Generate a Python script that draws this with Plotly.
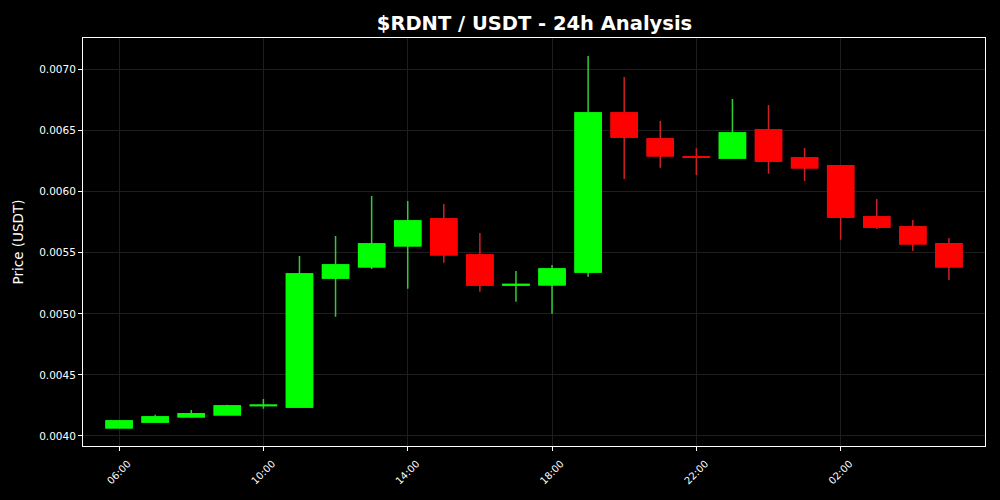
import plotly.graph_objects as go
import pandas as pd

times = pd.date_range("2024-01-01 06:00", periods=24, freq="h")
open_ = [0.004068, 0.004115, 0.004158, 0.004174, 0.004249, 0.004237, 0.005293, 0.005386,
         0.005558, 0.005776, 0.005482, 0.005236, 0.005238, 0.005342, 0.006644, 0.006431,
         0.006286, 0.006276, 0.006505, 0.006276, 0.006212, 0.005793, 0.005711, 0.005574]
high = [0.004131, 0.004174, 0.004213, 0.004256, 0.004303, 0.005473, 0.005637, 0.005965,
        0.005924, 0.005900, 0.005662, 0.005351, 0.005400, 0.007110, 0.006939, 0.006578,
        0.006355, 0.006758, 0.006709, 0.006357, 0.006218, 0.005940, 0.005768, 0.005621]
low = [0.004066, 0.004112, 0.004150, 0.004172, 0.004223, 0.004235, 0.004977, 0.005367,
       0.005206, 0.005419, 0.005181, 0.005099, 0.005001, 0.005304, 0.006104, 0.006196,
       0.006136, 0.006274, 0.006147, 0.006087, 0.005607, 0.005694, 0.005514, 0.005277]
close = [0.004123, 0.004156, 0.004183, 0.004246, 0.004252, 0.005326, 0.005400, 0.005572,
         0.005760, 0.005484, 0.005236, 0.005240, 0.005367, 0.006644, 0.006447, 0.006294,
         0.006282, 0.006480, 0.006251, 0.006196, 0.005793, 0.005711, 0.005574, 0.005386]

y_ticks = [0.0040, 0.0045, 0.0050, 0.0055, 0.0060, 0.0065, 0.0070]
x_ticks = pd.date_range("2024-01-01 06:00", periods=6, freq="4h")

body_hi = [max(o, c) for o, c in zip(open_, close)]
body_lo = [min(o, c) for o, c in zip(open_, close)]

UP_BODY, DN_BODY = "#00ff00", "#ff0000"
UP_WICK, DN_WICK = "#33cc33", "#cc2222"

fig = go.Figure()
# wicks
fig.add_trace(go.Candlestick(
    x=times, open=open_, high=high, low=low, close=close,
    increasing=dict(line=dict(color=UP_WICK, width=1.5), fillcolor=UP_BODY),
    decreasing=dict(line=dict(color=DN_WICK, width=1.5), fillcolor=DN_BODY),
    whiskerwidth=0, showlegend=False, hoverinfo="skip"))
# bodies
fig.add_trace(go.Candlestick(
    x=times, open=open_, high=body_hi, low=body_lo, close=close,
    increasing=dict(line=dict(color=UP_BODY, width=1.5), fillcolor=UP_BODY),
    decreasing=dict(line=dict(color=DN_BODY, width=1.5), fillcolor=DN_BODY),
    whiskerwidth=0, showlegend=False))

GRID = "#1e1e1e"
fig.update_layout(
    width=1000, height=500,
    paper_bgcolor="#000000", plot_bgcolor="#000000",
    margin=dict(l=83, r=15, t=38, b=54),
    font=dict(family="DejaVu Sans", color="#ffffff", size=10),
    title=dict(text="<b>$RDNT / USDT - 24h Analysis</b>", x=0.5345, xanchor="center",
               y=0.953, yanchor="middle", yref="container",
               font=dict(size=19.5, color="#ffffff", family="DejaVu Sans")),
    boxmode="overlay", boxgap=0.28, boxgroupgap=0,
    showlegend=False,
)
fig.update_xaxes(
    type="date",
    range=[pd.Timestamp("2024-01-01 05:00"), pd.Timestamp("2024-01-02 06:00")],
    rangeslider=dict(visible=False),
    tickvals=list(x_ticks), tickformat="%H:%M", tickangle=-45,
    tickfont=dict(size=10, color="#ffffff"),
    ticklabelshift=9, ticklabelstandoff=3,
    showline=True, linecolor="#ffffff", linewidth=1, mirror=True,
    ticks="outside", ticklen=4, tickcolor="#ffffff",
    showgrid=True, gridcolor=GRID, gridwidth=1,
    zeroline=False,
)
fig.update_yaxes(
    range=[0.003918, 0.007258],
    tickvals=y_ticks, tickformat=".4f",
    tickfont=dict(size=10.5, color="#ffffff"),
    title=dict(text="Price (USDT)", font=dict(size=13.5, color="#ffffff"), standoff=12),
    showline=True, linecolor="#ffffff", linewidth=1, mirror=True,
    ticks="outside", ticklen=4, tickcolor="#ffffff",
    showgrid=True, gridcolor=GRID, gridwidth=1,
    zeroline=False,
)

fig.write_html(
    "out.html",
    config={"displayModeBar": False},
    post_script="document.body.style.margin='0';document.body.style.background='#000';"
                "document.body.style.overflow='hidden';",
)
